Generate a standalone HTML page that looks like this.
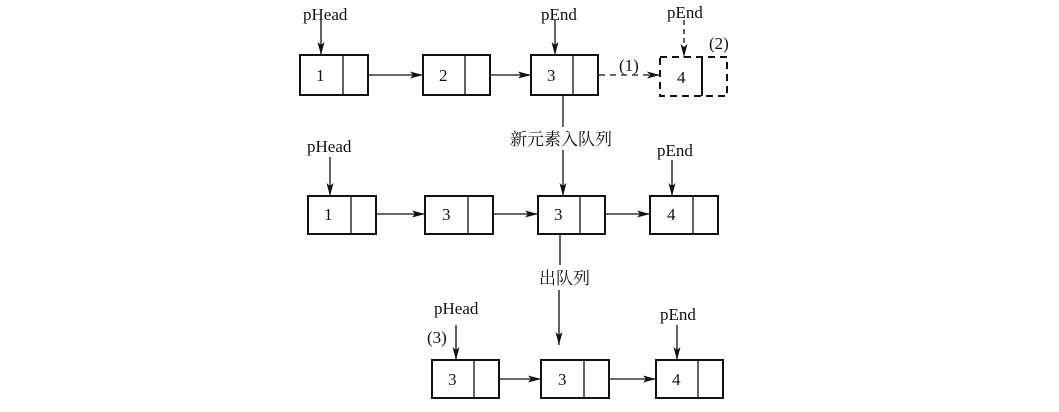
<!DOCTYPE html>
<html><head><meta charset="utf-8"><style>
html,body{margin:0;padding:0;background:#fff}
svg{display:block}
text{font-family:"Liberation Serif","Noto Serif CJK SC",serif;font-size:17px;fill:#111}
.c{font-family:"Liberation Serif","Noto Serif CJK SC","Noto Sans CJK SC",serif;font-size:17px}
</style></head><body>
<svg width="1059" height="412" viewBox="0 0 1059 412" xmlns="http://www.w3.org/2000/svg">
<defs>
<marker id="a" viewBox="0 0 13 9" refX="13" refY="4.5" markerWidth="13" markerHeight="9" markerUnits="userSpaceOnUse" orient="auto">
<path d="M0,1 L13,4.5 L0,8 L3,4.5 Z" fill="#111"/></marker>
</defs>
<g stroke="#111" stroke-width="2" fill="none">
<rect x="300" y="55" width="68" height="40"/><line x1="343" y1="55" x2="343" y2="95" stroke-width="1.3"/>
<rect x="423" y="55" width="67" height="40"/><line x1="465" y1="55" x2="465" y2="95" stroke-width="1.3"/>
<rect x="531" y="55" width="67" height="40"/><line x1="573" y1="55" x2="573" y2="95" stroke-width="1.3"/>
<rect x="660" y="57" width="67" height="39" stroke-dasharray="7,5"/><line x1="702" y1="57" x2="702" y2="96"/>
<rect x="308" y="196" width="68" height="38"/><line x1="351" y1="196" x2="351" y2="234" stroke-width="1.3"/>
<rect x="425" y="196" width="68" height="38"/><line x1="468" y1="196" x2="468" y2="234" stroke-width="1.3"/>
<rect x="538" y="196" width="67" height="38"/><line x1="580" y1="196" x2="580" y2="234" stroke-width="1.3"/>
<rect x="650" y="196" width="68" height="38"/><line x1="693" y1="196" x2="693" y2="234" stroke-width="1.3"/>
<rect x="432" y="360" width="67" height="38"/><line x1="474" y1="360" x2="474" y2="398" stroke-width="1.3"/>
<rect x="541" y="360" width="68" height="38"/><line x1="584" y1="360" x2="584" y2="398" stroke-width="1.3"/>
<rect x="656" y="360" width="67" height="38"/><line x1="698" y1="360" x2="698" y2="398" stroke-width="1.3"/>
</g>
<g stroke="#111" stroke-width="1.3" fill="none" marker-end="url(#a)">
<line x1="321" y1="20" x2="321" y2="55"/>
<line x1="555" y1="20" x2="555" y2="55"/>
<line x1="684" y1="20" x2="684" y2="57" stroke-dasharray="5,4"/>
<line x1="368" y1="75" x2="423" y2="75"/>
<line x1="490" y1="75" x2="531" y2="75"/>
<line x1="599" y1="75" x2="660" y2="75" stroke-dasharray="6,5"/>
<line x1="330" y1="157" x2="330" y2="196"/>
<line x1="563" y1="150" x2="563" y2="196"/>
<line x1="672" y1="160" x2="672" y2="196"/>
<line x1="376" y1="214" x2="425" y2="214"/>
<line x1="493" y1="214" x2="538" y2="214"/>
<line x1="605" y1="214" x2="650" y2="214"/>
<line x1="559" y1="290" x2="559" y2="345"/>
<line x1="456" y1="325" x2="456" y2="360"/>
<line x1="677" y1="325" x2="677" y2="360"/>
<line x1="499" y1="379" x2="541" y2="379"/>
<line x1="609" y1="379" x2="656" y2="379"/>
</g>
<g stroke="#111" stroke-width="1.3">
<line x1="563" y1="95" x2="563" y2="127"/>
<line x1="560" y1="234" x2="560" y2="265"/>
</g>
<text x="303" y="20">pHead</text>
<text x="541" y="20">pEnd</text>
<text x="667" y="18">pEnd</text>
<text x="709" y="49">(2)</text>
<text x="619" y="71">(1)</text>
<text x="316" y="81">1</text>
<text x="439" y="81">2</text>
<text x="547" y="81">3</text>
<text x="677" y="83">4</text>
<text class="c" x="510" y="145">新元素入队列</text>
<text x="307" y="152">pHead</text>
<text x="657" y="156">pEnd</text>
<text x="324" y="220">1</text>
<text x="442" y="220">3</text>
<text x="554" y="220">3</text>
<text x="667" y="220">4</text>
<text class="c" x="539" y="284">出队列</text>
<text x="434" y="314">pHead</text>
<text x="427" y="343">(3)</text>
<text x="660" y="320">pEnd</text>
<text x="448" y="385">3</text>
<text x="558" y="385">3</text>
<text x="672" y="385">4</text>
</svg>
</body></html>
